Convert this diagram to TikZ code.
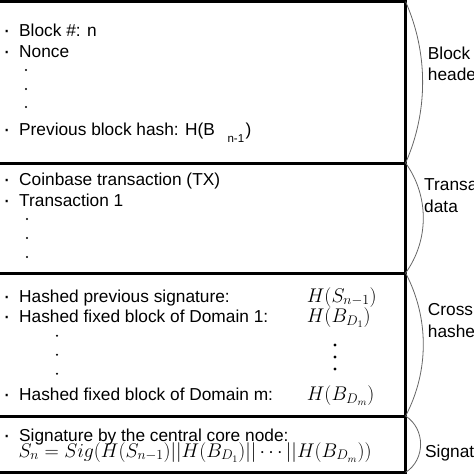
\documentclass[tikz,border=0pt]{standalone}
\usepackage{fix-cm}
\usepackage{amsmath}
\usepackage{fontspec}
\setmainfont{Liberation Sans}
\begin{document}
\begin{tikzpicture}[x=1pt,y=-1pt]
\tikzset{
  frame/.style={line width=3.3pt, line join=miter},
  divider/.style={line width=3pt},
  brace/.style={line width=0.8pt, draw=black!60},
  item/.style={anchor=base west, inner sep=0pt, font=\fontsize{17.3}{21}\selectfont},
  lab/.style={anchor=base west, inner sep=0pt, align=left, font=\fontsize{17.3}{21.5}\selectfont},
  mth/.style={anchor=base west, inner sep=0pt, font=\fontsize{19.8}{22}\selectfont},
  sdot/.style={fill=black, circle, inner sep=0pt, minimum size=2.3pt},
  bdot/.style={fill=black, circle, inner sep=0pt, minimum size=3.4pt},
}
\newcommand{\bul}{\makebox[4.8pt]{\raisebox{-1.2pt}{\fontsize{22}{22}\selectfont·}}\hspace{9.9pt}}
\useasboundingbox (0,0) rectangle (474,474);
\clip (0,0) rectangle (474,474);
% frame
\coordinate (c0) at (405.6,1.7);
\coordinate (c1) at (405.6,163);
\coordinate (c2) at (405.6,273);
\coordinate (c3) at (405.6,416);
\coordinate (c4) at (405.6,472.4);
\coordinate (l0) at (-10,1.7);
\coordinate (l1) at (-10,163);
\coordinate (l2) at (-10,273);
\coordinate (l3) at (-10,416);
\coordinate (l4) at (-10,472.4);
\draw[frame] (l0) -- (c0) -- (c4) -- (l4);
\draw[divider] (l1) -- (c1);
\draw[divider] (l2) -- (c2);
\draw[divider] (l3) -- (c3);
% braces
\draw[brace] (c0) .. controls +(22.7,51.4) and +(22.7,-51.4) .. (c1);
\draw[brace] (c1) .. controls +(23.6,32.9) and +(23.6,-32.9) .. (c2);
\draw[brace] (c2) .. controls +(23.6,44.8) and +(23.6,-44.8) .. (c3);
\draw[brace] (c3) .. controls +(20,12.9) and +(20,-12.9) .. (c4);
% block header
\node[item] (b1) at (4.3,36) {\bul Block \#: n};
\node[item] (b2) at (4.3,57) {\bul Nonce};
\node[sdot] (d1) at (26,70) {};
\node[sdot] (d2) at (26,89) {};
\node[sdot] (d3) at (26,107) {};
\node[item] (b3) at (4.3,135) {\bul Previous block hash: H(B\hspace{12.5pt}\raisebox{-7pt}{\fontsize{11.5}{11.5}\selectfont n-1}\hspace{1.5pt})};
% transaction data
\node[item] (t1) at (4.3,185.7) {\bul Coinbase transaction (TX)};
\node[item] (t2) at (4.3,206) {\bul Transaction 1};
\node[sdot] (d4) at (27,219) {};
\node[sdot] (d5) at (27,238) {};
\node[sdot] (d6) at (27,257) {};
% cross hashes
\node[item] (h1) at (4.3,302) {\bul Hashed previous signature:};
\node[item] (h2) at (4.3,322.7) {\bul Hashed fixed block of Domain 1:};
\node[sdot] (d7) at (57,335.7) {};
\node[sdot] (d8) at (57,354.7) {};
\node[sdot] (d9) at (57,373.7) {};
\node[item] (h3) at (4.3,400.7) {\bul Hashed fixed block of Domain m:};
\node[mth] (m1) at (306.7,302) {$H(S_{n-1})$};
\node[mth] (m2) at (306.7,322.7) {$H(B_{D_1})$};
\node[bdot] (e1) at (335,345) {};
\node[bdot] (e2) at (335,357) {};
\node[bdot] (e3) at (335,369) {};
\node[mth] (m3) at (306.7,400.7) {$H(B_{D_m})$};
% signature
\node[item] (s1) at (4.3,441) {\bul Signature by the central core node:};
\node[mth] (s2) at (18.3,457) {$S_n = Sig(H(S_{n-1})||H(B_{D_1})||\cdots||H(B_{D_m}))$};
% labels
\node[lab] (L1) at (427.7,80.5) {Block\\header};
\node[lab] (L2) at (424,212) {Transaction\\data};
\node[lab] (L3) at (427.7,337) {Cross\\hashes};
\node[lab] (L4) at (425,457) {Signature};
\end{tikzpicture}
\end{document}
